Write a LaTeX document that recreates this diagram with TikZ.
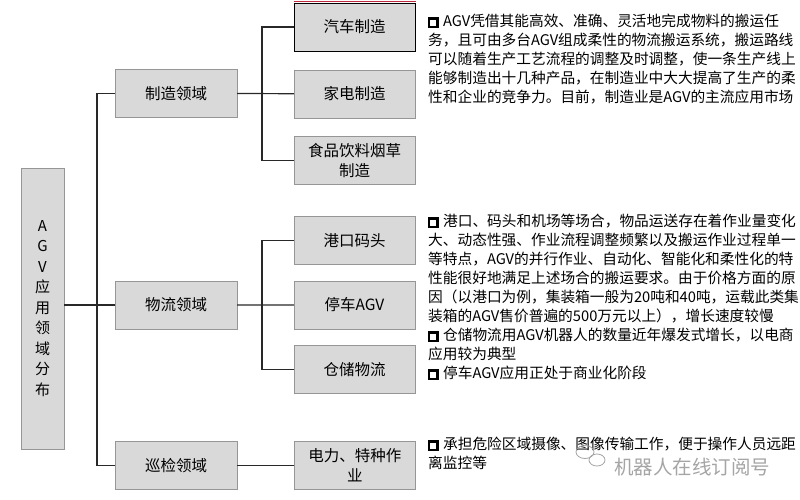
\documentclass[tikz,border=0pt]{standalone}
\usepackage{fontspec}
\newfontfamily\cjk{Noto Sans CJK SC}
\usetikzlibrary{positioning}
\definecolor{boxcol}{RGB}{217, 217, 217}
\definecolor{edgecol}{RGB}{150, 150, 150}
\definecolor{linecol}{RGB}{40, 40, 40}
\definecolor{selcol}{RGB}{190, 40, 60}
\definecolor{wmcol}{RGB}{165, 165, 165}
% hollow square in front of each paragraph
\newcommand{\sqmark}{\raisebox{0.6pt}{\setlength{\fboxrule}{2.2pt}%
  \setlength{\fboxsep}{0pt}\fbox{\rule{0pt}{6pt}\hspace{6pt}}}\hspace{4.5pt}}
\tikzset{
  blk/.style   = {draw=edgecol, fill=boxcol, align=center, inner sep=2pt,
                  font=\cjk\fontsize{15.5}{20}\selectfont},
  root/.style  = {blk, minimum width=43pt, minimum height=281pt,
                  font=\cjk\fontsize{15}{20.5}\selectfont},
  area/.style  = {blk, minimum width=122pt, minimum height=48pt},
  item/.style  = {blk, minimum width=121pt, minimum height=48pt},
  note/.style  = {anchor=north west, align=left, inner sep=0pt,
                  font=\cjk\fontsize{14.7}{19}\selectfont},
  link/.style  = {draw=linecol, line width=1.2pt},
  wmtext/.style = {text=wmcol, inner sep=0pt,
                   font=\cjk\fontsize{19.5}{20}\selectfont},
}
\begin{document}
\begin{tikzpicture}[x=1pt, y=-1pt, node distance=17pt]

  \path[use as bounding box, fill=white] (0,0) rectangle (800,499);

  \node[root] (agv) at (42.5,308.5) {A\\G\\V\\应\\用\\领\\域\\分\\布};

  %% ================ second level ================
  \node[area] (zz) at (176,93.5)  {制造领域};
  \node[area] (wl) at (176,305)   {物流领域};
  \node[area] (xj) at (176,465.5) {巡检领域};

  \coordinate (trunk) at (97,0);
  \draw[link] (wl.west -| agv.east) -- (wl.west);
  \draw[link] (zz.west) -- (zz.west -| trunk) -- (xj.west -| trunk) -- (xj.west);

  %% ================ manufacturing ================
  \node[item, draw=black, line width=1pt] (qc) at (354.5,27) {汽车制造};
  \node[item, below=18pt of qc] (jd) {家电制造};
  \node[item, below=18pt of jd] (sp) {食品饮料烟草\\制造};
  \draw[selcol, line width=1.4pt] ([yshift=1.2pt]qc.north west) -- ([yshift=1.2pt]qc.north east);

  \coordinate (br1) at (262,0);
  \draw[link] (zz.east) -- (jd.west);
  \draw[link] (qc.west) -- (qc.west -| br1) -- (sp.west -| br1) -- (sp.west);

  %% ================ logistics ================
  \node[item] (gk) at (354.5,240.5) {港口码头};
  \node[item, below=16pt of gk] (tc) {停车AGV};
  \node[item, below=16pt of tc] (cc) {仓储物流};

  \draw[link] (wl.east) -- (tc.west);
  \draw[link] (gk.west) -- (gk.west -| br1) -- (cc.west -| br1) -- (cc.west);

  %% ================ inspection ================
  \node[item, right=57pt of xj] (dl) {电力、特种作\\业};
  \draw[link] (xj.east) -- (dl.west);

  %% ---------------- the notes on the right ----------------
  \node[note] (n1) at (428,13.5)
       {\sqmark AGV凭借其能高效、准确、灵活地完成物料的搬运任\\
        务，且可由多台AGV组成柔性的物流搬运系统，搬运路线\\
        可以随着生产工艺流程的调整及时调整，使一条生产线上\\
        能够制造出十几种产品，在制造业中大大提高了生产的柔\\
        性和企业的竞争力。目前，制造业是AGV的主流应用市场};

  \node[note] (n2) at (428,213.5)
       {\sqmark 港口、码头和机场等场合，物品运送存在着作业量变化\\
        大、动态性强、作业流程调整频繁以及搬运作业过程单一\\
        等特点，AGV的并行作业、自动化、智能化和柔性化的特\\
        性能很好地满足上述场合的搬运要求。由于价格方面的原\\
        因（以港口为例，集装箱一般为20吨和40吨，运载此类集\\
        装箱的AGV售价普遍的500万元以上），增长速度较慢\\
        \sqmark 仓储物流用AGV机器人的数量近年爆发式增长，以电商\\
        应用较为典型\\
        \sqmark 停车AGV应用正处于商业化阶段};

  \node[note] (n3) at (428,436.5)
       {\sqmark 承担危险区域摄像、图像传输工作，便于操作人员远距\\
        离监控等};

  % watermark
  \draw[wmcol, line width=0.8pt] (585,452) ellipse (9 and 6.5);
  \draw[wmcol, line width=0.8pt] (597,460) ellipse (8 and 6);
  \node[wmtext, anchor=west] (wm) at (614,467) {机器人在线订阅号};

\end{tikzpicture}
\end{document}
